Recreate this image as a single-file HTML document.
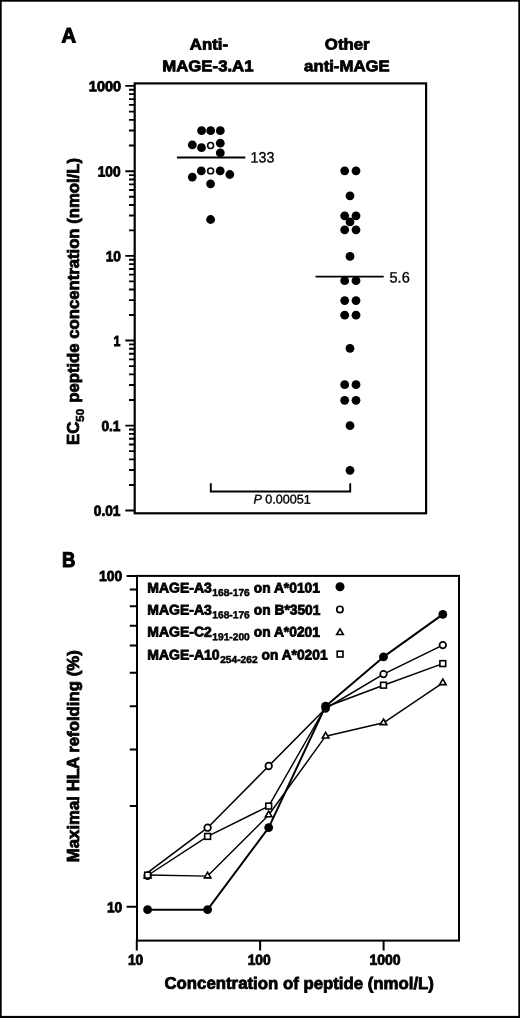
<!DOCTYPE html>
<html lang="en"><head><meta charset="utf-8"><title>Figure</title>
<style>html,body{margin:0;padding:0;background:#fff;}body{width:520px;height:1018px;overflow:hidden;}svg{display:block;}text{font-family:"Liberation Sans",sans-serif;fill:#000;}.b{font-weight:bold;stroke:#000;stroke-width:0.8px;}.r{stroke:#000;stroke-width:0.35px;}</style></head><body>
<svg width="520" height="1018" viewBox="0 0 520 1018">
<rect x="0" y="0" width="520" height="1018" fill="#fff"/>
<rect x="0" y="0" width="520" height="1.7" fill="#000"/>
<rect x="0" y="0" width="1.7" height="1018" fill="#000"/>
<rect x="518.3" y="0" width="1.7" height="1018" fill="#000"/>
<rect x="0" y="1015.9" width="520" height="2.1" fill="#000"/>
<text class="b" transform="translate(61.4 42.5) rotate(0.03) scale(0.96 1.0)" font-size="21" style="stroke-width:1.1px">A</text>
<text class="b" transform="translate(208.9 49.4) rotate(0.03) scale(1.075 1.0)" font-size="15.6" text-anchor="middle">Anti-</text>
<text class="b" transform="translate(207.9 71.2) rotate(0.03) scale(1.075 1.0)" font-size="15.6" text-anchor="middle">MAGE-3.A1</text>
<text class="b" transform="translate(347.2 49.4) rotate(0.03) scale(1.075 1.0)" font-size="15.6" text-anchor="middle">Other</text>
<text class="b" transform="translate(346.9 71.2) rotate(0.03) scale(1.075 1.0)" font-size="15.6" text-anchor="middle">anti-MAGE</text>
<rect x="134.7" y="83.4" width="291.40000000000003" height="429.9" fill="none" stroke="#000" stroke-width="2.2"/>
<path d="M125.3 85.90H134.7M129.0 145.56H134.7M129.0 130.53H134.7M129.0 119.86H134.7M129.0 111.59H134.7M129.0 104.83H134.7M129.0 99.12H134.7M129.0 94.17H134.7M129.0 89.81H134.7M125.3 171.25H134.7M129.0 230.42H134.7M129.0 215.51H134.7M129.0 204.94H134.7M129.0 196.73H134.7M129.0 190.03H134.7M129.0 184.36H134.7M129.0 179.45H134.7M129.0 175.12H134.7M125.3 255.90H134.7M129.0 315.03H134.7M129.0 300.14H134.7M129.0 289.57H134.7M129.0 281.37H134.7M129.0 274.67H134.7M129.0 269.00H134.7M129.0 264.10H134.7M129.0 259.77H134.7M125.3 340.50H134.7M129.0 399.98H134.7M129.0 385.00H134.7M129.0 374.36H134.7M129.0 366.12H134.7M129.0 359.38H134.7M129.0 353.68H134.7M129.0 348.75H134.7M129.0 344.39H134.7M125.3 425.60H134.7M129.0 484.94H134.7M129.0 469.99H134.7M129.0 459.39H134.7M129.0 451.16H134.7M129.0 444.43H134.7M129.0 438.75H134.7M129.0 433.83H134.7M129.0 429.48H134.7M125.3 510.50H134.7" stroke="#000" stroke-width="1.9" fill="none"/>
<text class="b" transform="translate(121.0 91.2) rotate(0.03) scale(0.99 1.0)" font-size="14.6" text-anchor="end">1000</text>
<text class="b" transform="translate(120.6 176.55) rotate(0.03) scale(0.94 1.0)" font-size="14.6" text-anchor="end">100</text>
<text class="b" transform="translate(121.0 261.2) rotate(0.03) scale(0.94 1.0)" font-size="14.6" text-anchor="end">10</text>
<text class="b" transform="translate(120.5 345.8) rotate(0.03) scale(0.85 1.0)" font-size="14.6" text-anchor="end">1</text>
<text class="b" transform="translate(120.5 430.9) rotate(0.03) scale(0.94 1.0)" font-size="14.6" text-anchor="end">0.1</text>
<text class="b" transform="translate(120.5 515.8) rotate(0.03) scale(0.94 1.0)" font-size="14.6" text-anchor="end">0.01</text>
<text class="b" font-size="16.8" transform="translate(78.7 445.0) rotate(-90)">EC<tspan font-size="11.6" dy="5.4" style="stroke-width:0.5px">50</tspan><tspan dy="-5.4" dx="1.4" font-size="16.71"> peptide concentration (nmol/L)</tspan></text>
<g fill="#000">
<circle cx="201.6" cy="130.7" r="4.4"/>
<circle cx="210.7" cy="130.7" r="4.4"/>
<circle cx="220.3" cy="130.7" r="4.4"/>
<circle cx="192.3" cy="144.9" r="4.4"/>
<circle cx="201.5" cy="147.7" r="4.4"/>
<circle cx="220.3" cy="143.2" r="4.4"/>
<circle cx="220.3" cy="152.9" r="4.4"/>
<circle cx="192.3" cy="177.1" r="4.4"/>
<circle cx="201.3" cy="170.9" r="4.4"/>
<circle cx="220.2" cy="170.9" r="4.4"/>
<circle cx="229.8" cy="174.5" r="4.4"/>
<circle cx="210.6" cy="183.8" r="4.4"/>
<circle cx="210.6" cy="219.5" r="4.4"/>
<circle cx="344.7" cy="170.8" r="4.4"/>
<circle cx="356" cy="170.8" r="4.4"/>
<circle cx="350" cy="195.8" r="4.4"/>
<circle cx="344.7" cy="215.8" r="4.4"/>
<circle cx="356" cy="215.8" r="4.4"/>
<circle cx="350" cy="221.9" r="4.4"/>
<circle cx="344.7" cy="229.8" r="4.4"/>
<circle cx="356" cy="229.8" r="4.4"/>
<circle cx="350" cy="256.4" r="4.4"/>
<circle cx="344.7" cy="280.7" r="4.4"/>
<circle cx="356" cy="280.7" r="4.4"/>
<circle cx="344.7" cy="300.6" r="4.4"/>
<circle cx="356" cy="300.6" r="4.4"/>
<circle cx="344.7" cy="315.2" r="4.4"/>
<circle cx="356" cy="315.2" r="4.4"/>
<circle cx="350" cy="348.3" r="4.4"/>
<circle cx="344.7" cy="384.7" r="4.4"/>
<circle cx="356" cy="384.7" r="4.4"/>
<circle cx="344.7" cy="400.3" r="4.4"/>
<circle cx="356" cy="400.3" r="4.4"/>
<circle cx="350" cy="425.7" r="4.4"/>
<circle cx="350" cy="470.3" r="4.4"/>
</g>
<circle cx="210.6" cy="145.5" r="2.95" fill="#fff" stroke="#000" stroke-width="1.55"/>
<circle cx="210.6" cy="170.9" r="2.95" fill="#fff" stroke="#000" stroke-width="1.55"/>
<path d="M176.9 157.5H245.3M315.6 276.6H383.7" stroke="#000" stroke-width="1.8" fill="none"/>
<text class="r" transform="translate(250.6 162.4) rotate(0.03) scale(0.947 1.0)" font-size="15">133</text>
<text class="r" transform="translate(389.5 282.5) rotate(0.03) scale(0.97 1.0)" font-size="15">5.6</text>
<path d="M210.8 483.2V491.5H350.2V483.2" stroke="#000" stroke-width="1.9" fill="none"/>
<text class="r" transform="translate(253.4 503.6) rotate(0.03)" font-size="12.6"><tspan font-style="italic">P</tspan> 0.00051</text>
<text class="b" transform="translate(61.9 567.2) rotate(0.03) scale(0.88 1.01)" font-size="21" style="stroke-width:1.1px">B</text>
<rect x="137.0" y="575.9" width="322.0" height="364.70000000000005" fill="none" stroke="#000" stroke-width="2.0"/>
<path d="M126.6 575.9H137.0M129.8 589.5H137.0M129.8 606.3H137.0M129.8 625.8H137.0M129.8 645.5H137.0M129.8 672.8H137.0M129.8 706.3H137.0M129.8 749.5H137.0M129.8 805.9H137.0M126.6 906.8H137.0M136.8 940.6V950.4M260.1 940.6V950.4M383.6 940.6V950.4" stroke="#000" stroke-width="2.0" fill="none"/>
<text class="b" transform="translate(122.2 580.9) rotate(0.03) scale(0.95 1.0)" font-size="14.6" text-anchor="end">100</text>
<text class="b" transform="translate(122.2 912.2) rotate(0.03) scale(0.94 1.0)" font-size="14.6" text-anchor="end">10</text>
<text class="b" transform="translate(135.6 964.7) rotate(0.03) scale(0.94 1.0)" font-size="14.6" text-anchor="middle">10</text>
<text class="b" transform="translate(259.2 964.7) rotate(0.03) scale(0.95 1.0)" font-size="14.6" text-anchor="middle">100</text>
<text class="b" transform="translate(385.0 964.7) rotate(0.03) scale(0.96 1.0)" font-size="14.6" text-anchor="middle">1000</text>
<text class="b" transform="translate(299.2 988.9) rotate(0.03)" font-size="16.8" text-anchor="middle">Concentration of peptide (nmol/L)</text>
<text class="b" font-size="16.8" transform="translate(78.9 862.2) rotate(-90)">Maximal HLA refolding (%)</text>
<polyline points="147.6,875.00 207.6,876.10 268.7,815.00 325.6,736.20 383.5,722.80 442.8,682.80" fill="none" stroke="#000" stroke-width="1.45" stroke-linejoin="round"/>
<polyline points="147.6,872.60 207.6,827.70 268.7,766.00 325.6,708.50 383.5,674.10 442.8,645.10" fill="none" stroke="#000" stroke-width="1.55" stroke-linejoin="round"/>
<polyline points="147.6,875.50 207.6,836.40 268.7,806.10 325.6,707.00 383.5,685.20 442.8,663.60" fill="none" stroke="#000" stroke-width="1.45" stroke-linejoin="round"/>
<polyline points="147.6,909.70 207.6,909.70 268.7,827.60 325.6,706.20 383.5,656.90 442.8,614.40" fill="none" stroke="#000" stroke-width="2.0" stroke-linejoin="round"/>
<path d="M147.60 872.30L150.90 877.90H144.30Z" fill="#fff" stroke="#000" stroke-width="1.6" stroke-linejoin="miter"/>
<path d="M207.60 872.30L210.90 877.90H204.30Z" fill="#fff" stroke="#000" stroke-width="1.6" stroke-linejoin="miter"/>
<path d="M268.70 811.20L272.00 816.80H265.40Z" fill="#fff" stroke="#000" stroke-width="1.6" stroke-linejoin="miter"/>
<path d="M325.60 732.40L328.90 738.00H322.30Z" fill="#fff" stroke="#000" stroke-width="1.6" stroke-linejoin="miter"/>
<path d="M383.50 719.00L386.80 724.60H380.20Z" fill="#fff" stroke="#000" stroke-width="1.6" stroke-linejoin="miter"/>
<path d="M442.80 679.00L446.10 684.60H439.50Z" fill="#fff" stroke="#000" stroke-width="1.6" stroke-linejoin="miter"/>
<circle cx="147.6" cy="875.8" r="3.3" fill="#fff" stroke="#000" stroke-width="1.7"/>
<circle cx="207.6" cy="827.7" r="3.3" fill="#fff" stroke="#000" stroke-width="1.7"/>
<circle cx="268.7" cy="766.0" r="3.3" fill="#fff" stroke="#000" stroke-width="1.7"/>
<circle cx="325.6" cy="708.5" r="3.3" fill="#fff" stroke="#000" stroke-width="1.7"/>
<circle cx="383.5" cy="674.1" r="3.3" fill="#fff" stroke="#000" stroke-width="1.7"/>
<circle cx="442.8" cy="645.1" r="3.3" fill="#fff" stroke="#000" stroke-width="1.7"/>
<rect x="144.70" y="872.20" width="5.8" height="5.8" fill="#fff" stroke="#000" stroke-width="1.6"/>
<rect x="204.70" y="833.50" width="5.8" height="5.8" fill="#fff" stroke="#000" stroke-width="1.6"/>
<rect x="265.80" y="803.20" width="5.8" height="5.8" fill="#fff" stroke="#000" stroke-width="1.6"/>
<rect x="322.70" y="704.10" width="5.8" height="5.8" fill="#fff" stroke="#000" stroke-width="1.6"/>
<rect x="380.60" y="682.30" width="5.8" height="5.8" fill="#fff" stroke="#000" stroke-width="1.6"/>
<rect x="439.90" y="660.70" width="5.8" height="5.8" fill="#fff" stroke="#000" stroke-width="1.6"/>
<circle cx="147.6" cy="909.7" r="4.4" fill="#000"/>
<circle cx="207.6" cy="909.7" r="4.4" fill="#000"/>
<circle cx="268.7" cy="827.6" r="4.4" fill="#000"/>
<circle cx="325.6" cy="706.2" r="4.4" fill="#000"/>
<circle cx="383.5" cy="656.9" r="4.4" fill="#000"/>
<circle cx="442.8" cy="614.4" r="4.4" fill="#000"/>
<text class="b" transform="translate(147.3 592.4) rotate(0.03)" font-size="14">MAGE-A3<tspan font-size="10.2" dx="0.5" dy="3.6" style="stroke-width:0.5px">168-176</tspan></text>
<text class="b" transform="translate(253.79999999999998 592.4) rotate(0.03) scale(0.984 1.0)" font-size="14">on A*0101</text>
<text class="b" transform="translate(147.3 614.6) rotate(0.03)" font-size="14">MAGE-A3<tspan font-size="10.2" dx="0.5" dy="3.6" style="stroke-width:0.5px">168-176</tspan></text>
<text class="b" transform="translate(253.79999999999998 614.6) rotate(0.03) scale(0.984 1.0)" font-size="14">on B*3501</text>
<text class="b" transform="translate(147.3 636.6) rotate(0.03)" font-size="14">MAGE-C2<tspan font-size="10.2" dx="0.5" dy="3.6" style="stroke-width:0.5px">191-200</tspan></text>
<text class="b" transform="translate(253.79999999999998 636.6) rotate(0.03) scale(0.984 1.0)" font-size="14">on A*0201</text>
<text class="b" transform="translate(147.3 659.4) rotate(0.03)" font-size="14">MAGE-A10<tspan font-size="10.2" dx="0.5" dy="3.6" style="stroke-width:0.5px">254-262</tspan></text>
<text class="b" transform="translate(261.5 659.4) rotate(0.03) scale(0.984 1.0)" font-size="14">on A*0201</text>
<circle cx="340.0" cy="586.7" r="4.5" fill="#000"/>
<circle cx="339.9" cy="609.4" r="3.15" fill="#fff" stroke="#000" stroke-width="1.7"/>
<path d="M340.00 628.90L343.30 634.50H336.70Z" fill="#fff" stroke="#000" stroke-width="1.6" stroke-linejoin="miter"/>
<rect x="337.20" y="651.20" width="5.8" height="5.8" fill="#fff" stroke="#000" stroke-width="1.6"/>
</svg></body></html>
